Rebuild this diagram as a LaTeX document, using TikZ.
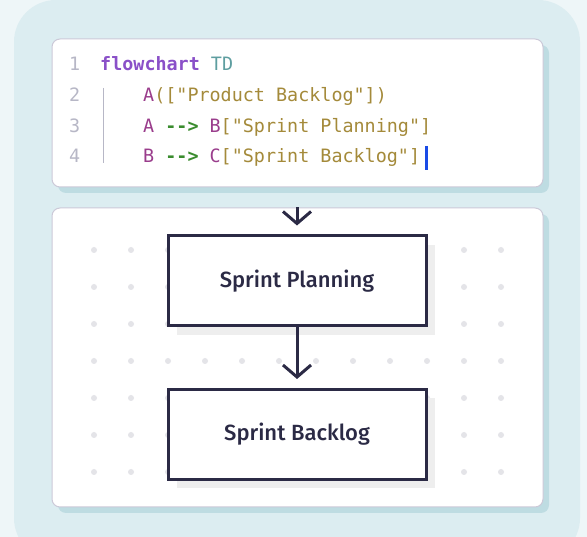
\documentclass[tikz,border=0pt]{standalone}
\usepackage{fontspec}
\setmonofont{DejaVu Sans Mono}
\newfontfamily\boxfont{Fira Sans}[UprightFont={* Medium}]
\usetikzlibrary{arrows.meta}
\usetikzlibrary{shadows}

\definecolor{pagebg}{HTML}{EEF6F8}
\definecolor{panelbg}{HTML}{DCEDF1}
\definecolor{cardshade}{HTML}{BEDCE2}
\definecolor{cardline}{HTML}{CCC9D8}
\definecolor{kwpurple}{HTML}{8A50C8}
\definecolor{tdteal}{HTML}{5E9EA0}
\definecolor{idmag}{HTML}{9A3D8C}
\definecolor{strgold}{HTML}{A48A3A}
\definecolor{arrgreen}{HTML}{3A8C2E}
\definecolor{numgray}{HTML}{B7B7C6}
\definecolor{cursorblue}{HTML}{1A4BE6}
\definecolor{ink}{HTML}{2B2A45}
\definecolor{dotgray}{HTML}{E4E4E8}
\definecolor{boxshade}{HTML}{EEEEEE}

\begin{document}
\begin{tikzpicture}
[x=1pt,y=-1pt,%
  cardDecorate/.style={draw=cardline,line width=1pt,fill=white,rounded corners=8pt,
    minimum width=491pt,inner sep=0pt,
    drop shadow={shadow xshift=6pt,shadow yshift=-6pt,fill=cardshade,opacity=1}},%
  codeLine/.style={anchor=base west,inner sep=0pt,font=\fontsize{18.4}{20}\selectfont\ttfamily},%
  numLine/.style={codeLine,text=numgray},%
  flowBox/.style={draw=ink,line width=3pt,fill=white,minimum width=258pt,minimum height=90pt,
    text=ink,font=\fontsize{22}{24}\selectfont\boxfont,
    drop shadow={shadow xshift=9pt,shadow yshift=-9pt,fill=boxshade,opacity=1}},%
  flowArrow/.style={draw=ink,line width=3pt,-{Straight Barb[length=12pt,width=28pt]},shorten >=9pt}]
\useasboundingbox (0,0) rectangle (587,537);
%% background and panel
\fill[pagebg] (0,0) rectangle (587,537);
\fill[panelbg,rounded corners=42pt] (14,0) rectangle (580,560);
%% cards
\node[cardDecorate,minimum height=148pt] (codecard) at (297.5,113) {};
\node[cardDecorate,minimum height=299pt] (chartcard) at (297.5,357.5) {};
%% code lines
\foreach \num/\y in {1/71, 2/102, 3/133, 4/163}
{
  \node[numLine] (n\num) at (69,\y) {\num};
}
\node[codeLine] (l1) at (100,71) {\textcolor{kwpurple}{\bfseries flowchart} \textcolor{tdteal}{TD}};
\node[codeLine] (l2) at (143,102) {\textcolor{idmag}{A}\textcolor{strgold}{(["Product Backlog"])}};
\node[codeLine] (l3) at (143,133) {\textcolor{idmag}{A} \textcolor{arrgreen}{\bfseries -->} \textcolor{idmag}{B}\textcolor{strgold}{["Sprint Planning"]}};
\node[codeLine] (l4) at (143,163) {\textcolor{idmag}{B} \textcolor{arrgreen}{\bfseries -->} \textcolor{idmag}{C}\textcolor{strgold}{["Sprint Backlog"]}};
\draw[numgray,line width=1pt] (103,88) -- (103,163);
\draw[cursorblue,line width=3pt] ([xshift=6pt]l4.base east) ++(0,-17) -- ++(0,24);
%% dot grid
\foreach \col in {0,...,11}
  \foreach \row in {0,...,6}
    \fill[dotgray] (94+37*\col,250+37*\row) circle (3pt);
%% flowchart nodes and edges
\node[flowBox] (plan) at (297,281) {Sprint Planning};
\node[flowBox] (backlog) at (297,434.5) {Sprint Backlog};
\draw[flowArrow] (plan |- chartcard.north) -- (plan);
\draw[flowArrow] (plan) -- (backlog);
\end{tikzpicture}
\end{document}
